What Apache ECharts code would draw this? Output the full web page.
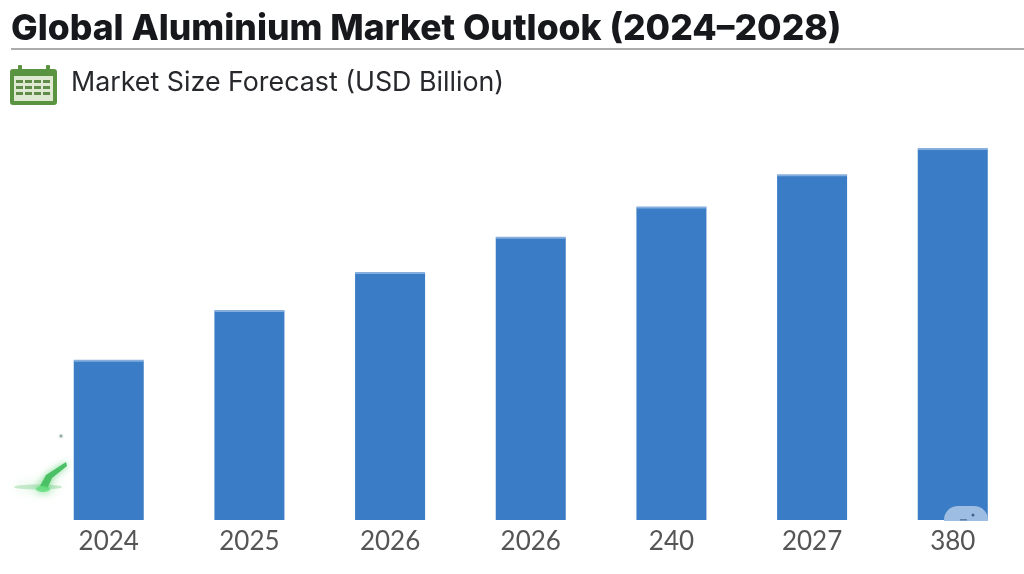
<!DOCTYPE html>
<html>
<head>
<meta charset="utf-8">
<title>Global Aluminium Market Outlook</title>
<script src="https://cdn.jsdelivr.net/npm/echarts@6/dist/echarts.min.js"></script>
<style>
  html, body { margin: 0; padding: 0; background: #ffffff; }
  #chart { width: 1024px; height: 574px; }
</style>
</head>
<body>
<div id="chart"></div>
<script>
// Axis labels, printed as they appear under each bar
const categories = ['2024', '2025', '2026', '2026', '240', '2027', '380'];
// Market size, USD billion
const marketSize = [163, 214, 253, 289, 320, 353, 380];

const titleText = 'Global Aluminium Market Outlook (2024\u20132028)';
const subtitleText = 'Market Size Forecast (USD Billion)';

const BAR_BLUE = '#3a7cc5';
const ICON_GREEN = '#5b9440';
const OVERLAY_Z = 10;

// Calendar icon beside the subtitle
function calendarIcon() {
  const parts = [
    { type: 'rect', shape: { x: 10, y: 69, width: 47, height: 36, r: 3 }, style: { fill: ICON_GREEN } },
    { type: 'rect', shape: { x: 18, y: 65, width: 4, height: 8, r: 1 }, style: { fill: ICON_GREEN } },
    { type: 'rect', shape: { x: 46, y: 65, width: 4, height: 8, r: 1 }, style: { fill: ICON_GREEN } },
    { type: 'rect', shape: { x: 14, y: 76, width: 39, height: 25 }, style: { fill: '#dfe9d2' } }
  ];
  [80, 86, 92].forEach(function (y) {
    [16, 25, 34, 43].forEach(function (x) {
      parts.push({ type: 'rect', shape: { x: x, y: y, width: 7, height: 3 }, style: { fill: '#5f8c48' } });
    });
  });
  return parts;
}

// Soft green brush mark left of the first bar
function brushMark() {
  return [
    { type: 'ellipse', shape: { cx: 38, cy: 487, rx: 24, ry: 2.5 },
      style: { fill: 'rgba(120,205,135,0.4)', shadowBlur: 12, shadowColor: 'rgba(90,200,110,0.7)' } },
    { type: 'polygon', shape: { points: [[40, 486], [46, 475], [66, 462], [67, 466], [52, 478], [47, 489]] },
      style: { fill: '#4cc066', shadowBlur: 7, shadowColor: 'rgba(60,200,90,0.7)' } },
    { type: 'ellipse', shape: { cx: 43, cy: 489, rx: 7, ry: 3 },
      style: { fill: 'rgba(98,220,124,0.8)', shadowBlur: 9, shadowColor: 'rgba(70,210,100,0.8)' } },
    { type: 'circle', shape: { cx: 61, cy: 436, r: 1.5 },
      style: { fill: '#93aca3', shadowBlur: 3, shadowColor: '#b5c5bf' } }
  ];
}

// Pale rounded badge in the corner of the last bar
function cornerBadge() {
  return [
    { type: 'rect', z: OVERLAY_Z, shape: { x: 944, y: 506, width: 44, height: 15, r: [14, 14, 0, 0] },
      style: { fill: '#9dbde3' } },
    { type: 'circle', z: OVERLAY_Z, shape: { cx: 973, cy: 515, r: 1.5 }, style: { fill: '#41638f' } },
    { type: 'rect', z: OVERLAY_Z, shape: { x: 960, y: 519, width: 7, height: 1.5 }, style: { fill: '#5f7ea5' } }
  ];
}

const chart = echarts.init(document.getElementById('chart'), null, { renderer: 'canvas' });

chart.setOption({
  animation: false,
  backgroundColor: '#ffffff',
  title: [
    {
      text: titleText, left: 11, top: 11, padding: 0,
      textStyle: { fontFamily: 'Inter', fontWeight: 800, fontSize: 35.5, color: '#16181c' }
    },
    {
      text: subtitleText, left: 71, top: 69, padding: 0,
      textStyle: { fontFamily: 'Inter', fontWeight: 400, fontSize: 26.8, color: '#26282c' }
    }
  ],
  grid: { left: 38.4, right: 0.9, top: 149, bottom: 54 },
  xAxis: {
    type: 'category',
    data: categories,
    axisLine: { show: false },
    axisTick: { show: false },
    axisLabel: { interval: 0, margin: 9, fontFamily: 'Lato', fontSize: 26, color: '#555555' }
  },
  yAxis: { type: 'value', min: 0, max: 380, show: false, splitLine: { show: false } },
  series: [
    {
      type: 'bar',
      data: marketSize,
      barWidth: 70,
      itemStyle: { color: BAR_BLUE },
      z: 2
    },
    {
      // Lighter cap along the top edge of each bar
      type: 'scatter',
      data: marketSize,
      symbol: 'rect',
      symbolSize: [70, 2],
      itemStyle: { color: '#84aedd', opacity: 1 },
      silent: true,
      z: 3
    }
  ],
  graphic: [
    { type: 'line', shape: { x1: 11, y1: 49, x2: 1024, y2: 49 }, style: { stroke: '#8f9193', lineWidth: 1.5 }, z: OVERLAY_Z },
    { type: 'group', children: calendarIcon() },
    { type: 'group', children: brushMark() },
    { type: 'group', children: cornerBadge() }
  ]
});
</script>
</body>
</html>
